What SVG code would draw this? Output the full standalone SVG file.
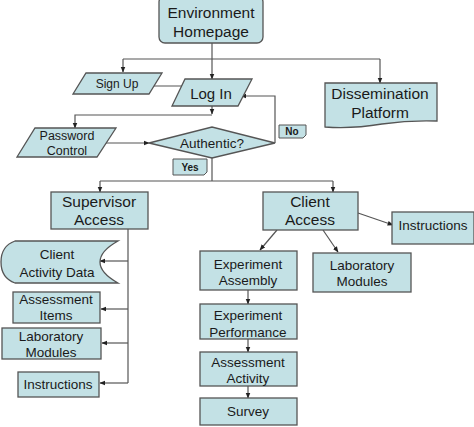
<svg xmlns="http://www.w3.org/2000/svg" width="474" height="427" viewBox="0 0 474 427">
<style>
.n{fill:#c3e1e5;stroke:#555;stroke-width:1.3}
.t{font-family:"Liberation Sans",Arial,sans-serif;fill:#1a1a1a;text-anchor:middle}
.c{fill:none;stroke:#555;stroke-width:1.2}
.lbl{fill:#c3e1e5;stroke:#555;stroke-width:1}
</style>
<defs>
<marker id="a" viewBox="0 0 10 10" refX="9" refY="5" markerWidth="6" markerHeight="6" orient="auto" markerUnits="userSpaceOnUse">
<path d="M0,1 L10,5 L0,9 z" fill="#222"/>
</marker>
</defs>
<rect width="474" height="427" fill="#fff"/>
<g id="connectors" class="c">
<path d="M212,43 V59"/>
<path d="M123,59 H380"/>
<path d="M123,59 V72" marker-end="url(#a)"/>
<path d="M212,59 V79" marker-end="url(#a)"/>
<path d="M380,59 V83" marker-end="url(#a)"/>
<path d="M150,86 H188" marker-end="url(#a)"/>
<path d="M212,106 V114" marker-end="url(#a)"/>
<path d="M212,115 H75 V128" marker-end="url(#a)"/>
<path d="M103,143 H149" marker-end="url(#a)"/>
<path d="M275,143 V96 H241" marker-end="url(#a)"/>
<path d="M212,158 V181"/>
<path d="M100,181 H333"/>
<path d="M100,181 V192" marker-end="url(#a)"/>
<path d="M333,181 V192" marker-end="url(#a)"/>
<path d="M128,229 V383"/>
<path d="M128,261 H100" marker-end="url(#a)"/>
<path d="M128,309 H101" marker-end="url(#a)"/>
<path d="M128,343 H102" marker-end="url(#a)"/>
<path d="M128,383 H100" marker-end="url(#a)"/>
<path d="M358,213 L393,225" marker-end="url(#a)"/>
<path d="M277,230 L260,250" marker-end="url(#a)"/>
<path d="M323,230 L338,252" marker-end="url(#a)"/>
<path d="M248,290 V304" marker-end="url(#a)"/>
<path d="M248,339 V352" marker-end="url(#a)"/>
<path d="M248,386 V398" marker-end="url(#a)"/>
</g>
<g id="environment-homepage">
<rect class="n" x="159" y="-4" width="104" height="47" rx="6"/>
<text class="t" x="211" y="18" font-size="15.5">Environment</text>
<text class="t" x="211" y="37" font-size="15.5">Homepage</text>
</g>
<g id="sign-up">
<polygon class="n" points="86,73 162,73 149,94 73,94"/>
<text class="t" x="117" y="88" font-size="12">Sign Up</text>
</g>
<g id="log-in">
<polygon class="n" points="185,79 252,79 238,106 172,106"/>
<text class="t" x="211" y="99" font-size="15">Log In</text>
</g>
<g id="dissemination-platform">
<path class="n" d="M325,83 H437 V121 Q410,120 382,124 Q352,129 325,127 Z"/>
<text class="t" x="380" y="99" font-size="15.5">Dissemination</text>
<text class="t" x="380" y="118" font-size="15.5">Platform</text>
</g>
<g id="password-control">
<polygon class="n" points="35,128 116,128 97,157 17,157"/>
<text class="t" x="67" y="140" font-size="12.5">Password</text>
<text class="t" x="67" y="155" font-size="12.5">Control</text>
</g>
<g id="authentic">
<polygon class="n" points="149,143 212,127 275,143 212,158"/>
<text class="t" x="212" y="148" font-size="13.5">Authentic?</text>
</g>
<g id="no-label">
<path class="lbl" d="M279,125 H306 V135 L303,138 H279 Z"/>
<text class="t" x="292" y="135" font-size="10" font-weight="bold">No</text>
</g>
<g id="yes-label">
<path class="lbl" d="M173,159 H207 V172 L204,175 H173 Z"/>
<text class="t" x="190" y="171" font-size="10" font-weight="bold">Yes</text>
</g>
<g id="supervisor-access">
<rect class="n" x="51" y="192" width="97" height="37"/>
<text class="t" x="99" y="207" font-size="15.5">Supervisor</text>
<text class="t" x="99" y="225" font-size="15.5">Access</text>
</g>
<g id="client-activity-data">
<path class="n" d="M15,241 H118 Q100,251 100,262 Q100,273 118,283 H15 Q1,278 1,262 Q1,246 15,241 Z"/>
<text class="t" x="57" y="259" font-size="13.5">Client</text>
<text class="t" x="57" y="277" font-size="13.5">Activity Data</text>
</g>
<g id="assessment-items">
<rect class="n" x="13" y="292" width="87" height="31"/>
<text class="t" x="56" y="304" font-size="13.5">Assessment</text>
<text class="t" x="56" y="320" font-size="13.5">Items</text>
</g>
<g id="laboratory-modules-left">
<rect class="n" x="2" y="328" width="99" height="31"/>
<text class="t" x="51" y="341" font-size="13.5">Laboratory</text>
<text class="t" x="51" y="357" font-size="13.5">Modules</text>
</g>
<g id="instructions-left">
<rect class="n" x="18" y="372" width="81" height="25"/>
<text class="t" x="58" y="389" font-size="13.5">Instructions</text>
</g>
<g id="client-access">
<rect class="n" x="263" y="192" width="95" height="38"/>
<text class="t" x="310" y="207" font-size="15.5">Client</text>
<text class="t" x="310" y="225" font-size="15.5">Access</text>
</g>
<g id="instructions-right">
<rect class="n" x="392" y="212" width="82" height="32"/>
<text class="t" x="433" y="230" font-size="13.5">Instructions</text>
</g>
<g id="experiment-assembly">
<rect class="n" x="200" y="251" width="97" height="39"/>
<text class="t" x="248" y="269" font-size="13.5">Experiment</text>
<text class="t" x="248" y="285" font-size="13.5">Assembly</text>
</g>
<g id="laboratory-modules-right">
<rect class="n" x="313" y="253" width="98" height="39"/>
<text class="t" x="362" y="270" font-size="13.5">Laboratory</text>
<text class="t" x="362" y="286" font-size="13.5">Modules</text>
</g>
<g id="experiment-performance">
<rect class="n" x="200" y="304" width="97" height="35"/>
<text class="t" x="248" y="320" font-size="13.5">Experiment</text>
<text class="t" x="248" y="337" font-size="13.5">Performance</text>
</g>
<g id="assessment-activity">
<rect class="n" x="200" y="352" width="97" height="34"/>
<text class="t" x="248" y="367" font-size="13.5">Assessment</text>
<text class="t" x="248" y="383" font-size="13.5">Activity</text>
</g>
<g id="survey">
<rect class="n" x="200" y="398" width="97" height="27"/>
<text class="t" x="248" y="416" font-size="13.5">Survey</text>
</g>
</svg>
